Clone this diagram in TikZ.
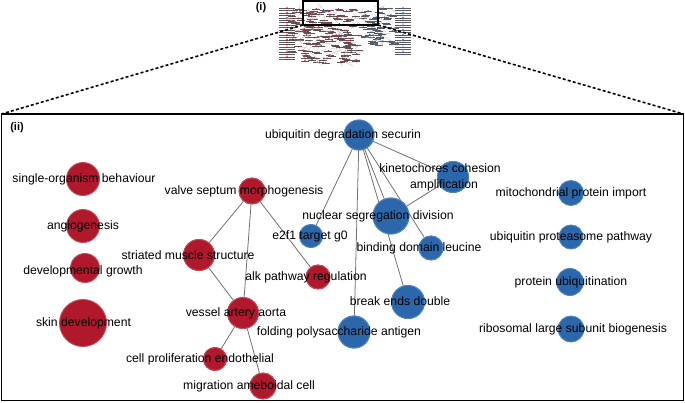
\documentclass[tikz,border=0pt]{standalone}
\usepackage{fontspec}
\setmainfont{Liberation Sans}
\definecolor{nred}{HTML}{B0182C}
\definecolor{nredb}{HTML}{C44A5A}
\definecolor{nblue}{HTML}{2C67AC}
\definecolor{nblueb}{HTML}{4F84BE}
\definecolor{edgec}{HTML}{707070}
\tikzset{
  rnode/.style={circle,fill=nred,draw=nredb,line width=0.9pt,inner sep=0pt,minimum size=#1},
  bnode/.style={circle,fill=nblue,draw=nblueb,line width=0.9pt,inner sep=0pt,minimum size=#1},
  lbl/.style={anchor=mid,inner sep=0pt,font=\fontsize{12.2}{13}\selectfont,text=black},
  edge/.style={draw=edgec,line width=0.8pt},
  zoomline/.style={draw=black,line width=1.6pt,dash pattern=on 3pt off 2.2pt},
  frame/.style={draw=black,line width=1.4pt},
  tlab/.style={draw=black!65,line width=0.55pt},
  tedge/.style={draw=gray!55,line width=0.3pt},
}
\begin{document}
\begin{tikzpicture}[x=1pt,y=-1pt]
\useasboundingbox (0,0) rectangle (685,402);
% ---------------- thumbnail (i) ----------------
\pgfmathsetseed{11}
% left column
\foreach \k in {0,...,21}{
  \pgfmathsetmacro\yy{8+\k*2.45}
  \draw[tlab] (279,\yy) -- (295,\yy);
  \fill[nred] (287,\yy) circle (0.9);
}
% right column
\foreach \k in {0,...,19}{
  \pgfmathsetmacro\yy{8+\k*2.45}
  \draw[tlab] (395,\yy) -- (411,\yy);
  \fill[nblue] (403,\yy) circle (0.9);
}
% red blob
\foreach \k in {1,...,190}{
  \pgfmathsetmacro\yy{9+54*rnd}
  \pgfmathsetmacro\xx{292+ (\yy>52 ? 12+55*rnd : 72*rnd)}
  \pgfmathsetmacro\xb{\xx+10*rand}
  \pgfmathsetmacro\yb{\yy+6*rand}
  \draw[tedge] (\xx,\yy) -- (\xb,\yb);
  \draw[tlab] (\xx-4,\yy) -- (\xx+4,\yy);
  \fill[nred] (\xx,\yy) circle (0.85);
}
% blue blob
\foreach \k in {1,...,65}{
  \pgfmathsetmacro\yy{8+38*rnd}
  \pgfmathsetmacro\xx{364+32*rnd}
  \pgfmathsetmacro\xb{\xx+10*rand}
  \pgfmathsetmacro\yb{\yy+6*rand}
  \draw[tedge] (\xx,\yy) -- (\xb,\yb);
  \draw[tlab] (\xx-4,\yy) -- (\xx+4,\yy);
  \fill[nblue] (\xx,\yy) circle (0.85);
}
\node[font=\bfseries\fontsize{11}{12}\selectfont,inner sep=0pt] (lab1) at (261,8) {(i)};
\draw[frame,line width=1.5pt] (303,0.9) rectangle (378,25);
\coordinate (tl) at (303,25);
\coordinate (tr) at (378,25);
\coordinate (bl) at (1.5,114);
\coordinate (br) at (683.5,114);
\draw[zoomline] (tl) -- (bl);
\draw[zoomline] (tr) -- (br);
% ---------------- panel (ii) ----------------
\draw[frame] (1.5,114) rectangle (683.5,400.5);
\node[font=\bfseries\fontsize{11}{12}\selectfont,inner sep=0pt] (lab2) at (17,128) {(ii)};

% red nodes
\node[rnode=33pt] (sob) at (83,179) {};
\node[rnode=33pt] (ang) at (83,226) {};
\node[rnode=29pt] (dev) at (85,268) {};
\node[rnode=47pt] (skin) at (83,323) {};
\node[rnode=26pt] (valve) at (252,191) {};
\node[rnode=31pt] (stri) at (199,255) {};
\node[rnode=24pt] (alk) at (318,277) {};
\node[rnode=31pt] (vess) at (243,313) {};
\node[rnode=23pt] (cell) at (215,359) {};
\node[rnode=26pt] (migr) at (263,386) {};
% blue nodes
\node[bnode=30pt] (uds) at (359,135) {};
\node[bnode=31pt] (kin) at (453,177) {};
\node[bnode=36pt] (nuc) at (391,216) {};
\node[bnode=23pt] (e2f) at (311,236) {};
\node[bnode=24pt] (bind) at (431,248) {};
\node[bnode=33pt] (brk) at (408,302) {};
\node[bnode=32pt] (fold) at (354,332) {};
\node[bnode=25pt] (mito) at (571,193) {};
\node[bnode=24pt] (ubp) at (571,237) {};
\node[bnode=27pt] (pub) at (570,282) {};
\node[bnode=26pt] (ribo) at (571,329) {};

% edges
\draw[edge] (valve) -- (stri);
\draw[edge] (valve) -- (vess);
\draw[edge] (valve) -- (alk);
\draw[edge] (stri) -- (vess);
\draw[edge] (vess) -- (cell);
\draw[edge] (vess) -- (migr);
\draw[edge] (uds) -- (e2f);
\draw[edge] (uds) -- (fold);
\draw[edge] (uds) -- (nuc);
\draw[edge] (uds.center) -- (brk);
\draw[edge] (uds) -- (bind);
\draw[edge] (uds) -- (kin);
\draw[edge] (nuc) -- (kin);

% redraw circles over edges
\foreach \n/\s in {valve/26pt,stri/31pt,alk/24pt,vess/31pt,cell/23pt,migr/26pt}{
  \node[rnode=\s] at (\n) {};
}
\foreach \n/\s in {uds/30pt,kin/31pt,nuc/36pt,e2f/23pt,bind/24pt,brk/33pt,fold/32pt}{
  \node[bnode=\s] at (\n) {};
}

% labels
\node[lbl] (tsob) at (84,179.5) {single-organism behaviour};
\node[lbl] (tang) at (83,226.5) {angiogenesis};
\node[lbl] (tdev) at (83,272) {developmental growth};
\node[lbl] (tskin) at (83.5,324) {skin development};
\node[lbl] (tvalve) at (244,191.5) {valve septum morphogenesis};
\node[lbl] (tstri) at (188,256.5) {striated muscle structure};
\node[lbl] (talk) at (306,277.5) {alk pathway regulation};
\node[lbl] (tvess) at (236,313.5) {vessel artery aorta};
\node[lbl] (tcell) at (200,359.5) {cell proliferation endothelial};
\node[lbl] (tmigr) at (249,386.5) {migration ameboidal cell};
\node[lbl] (tuds) at (343,135.5) {ubiquitin degradation securin};
\node[lbl] (tkin1) at (440,169.5) {kinetochores cohesion};
\node[lbl] (tkin2) at (444,185.5) {amplification};
\node[lbl] (tnuc) at (378,216.5) {nuclear segregation division};
\node[lbl] (te2f) at (310,236.5) {e2f1 target g0};
\node[lbl] (tbind) at (419,248.5) {binding domain leucine};
\node[lbl] (tbrk) at (400,302.5) {break ends double};
\node[lbl] (tfold) at (339,332.5) {folding polysaccharide antigen};
\node[lbl] (tmito) at (571,193.5) {mitochondrial protein import};
\node[lbl] (tubp) at (571,237.5) {ubiquitin proteasome pathway};
\node[lbl] (tpub) at (571,282.5) {protein ubiquitination};
\node[lbl] (tribo) at (573,329.5) {ribosomal large subunit biogenesis};
\end{tikzpicture}
\end{document}
